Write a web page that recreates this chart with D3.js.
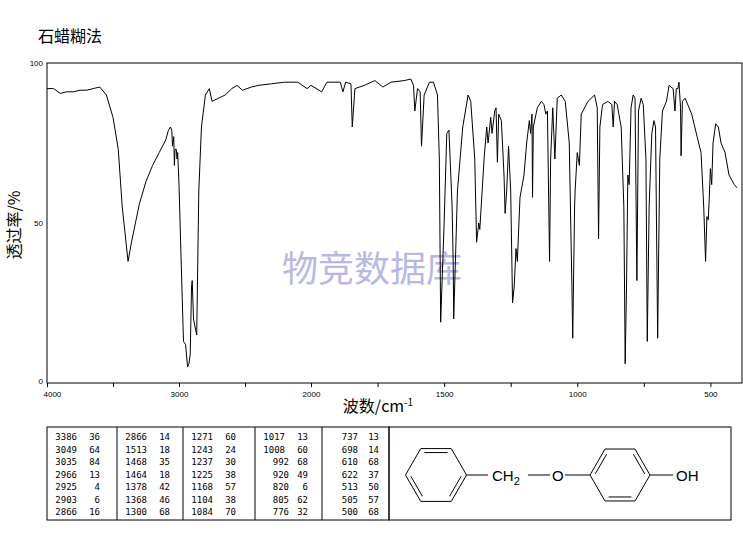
<!DOCTYPE html>
<html><head><meta charset="utf-8">
<script src="https://cdn.jsdelivr.net/npm/d3@7"></script>
<style>body{margin:0;background:#fff}svg{display:block}</style>
</head><body>
<script>
// spectrum points: [wavenumber, %T]
var spectrum = [[4000,92],[3950,92],[3900,90.5],[3850,91],[3800,91],[3750,91.5],[3700,91.5],[3650,92],[3600,92.5],[3550,90],[3500,83],[3460,73],[3430,55],[3386,38],[3360,44],[3300,56],[3250,63],[3200,68],[3150,72],[3100,76],[3080,79],[3065,80],[3055,79],[3049,74],[3040,77],[3035,68],[3030,73],[3020,73],[3015,70],[3010,72],[3000,62],[2985,40],[2966,13],[2950,12],[2935,5],[2925,6],[2915,9],[2905,30],[2900,32],[2890,20],[2866,15],[2850,60],[2830,80],[2800,90],[2770,92],[2750,88],[2700,89],[2650,90],[2600,92],[2560,93],[2520,91.5],[2450,92.5],[2400,93],[2300,93.5],[2200,94],[2100,94],[2030,92],[2000,93],[1960,91],[1940,94],[1890,94],[1880,91],[1870,94],[1850,93.5],[1845,80],[1835,92],[1800,93],[1760,94.5],[1730,92.5],[1700,94],[1650,94.5],[1625,95],[1615,93],[1610,85],[1600,92],[1590,91],[1585,74],[1575,90],[1555,94],[1540,94],[1525,90],[1518,70],[1513,19],[1500,50],[1490,78],[1482,79],[1470,55],[1466,38],[1464,20],[1450,60],[1430,80],[1410,90],[1400,88],[1385,70],[1378,44],[1370,50],[1366,48],[1350,70],[1340,80],[1335,75],[1325,83],[1320,78],[1310,85],[1305,86],[1300,69],[1295,84],[1285,82],[1275,65],[1271,53],[1265,60],[1258,74],[1250,60],[1243,25],[1237,30],[1230,42],[1225,38],[1215,58],[1200,65],[1190,75],[1180,82],[1175,78],[1170,84],[1168,58],[1165,80],[1150,86],[1135,88],[1125,87],[1118,84],[1112,85],[1104,38],[1100,70],[1092,86],[1088,78],[1084,70],[1075,89],[1060,90],[1045,88],[1030,75],[1020,30],[1017,14],[1010,55],[1008,60],[1000,72],[992,68],[985,84],[960,88],[935,90],[925,86],[920,45],[915,80],[905,87],[885,88],[870,87],[865,80],[860,88],[850,87],[835,80],[825,55],[820,6],[815,30],[810,65],[805,62],[798,86],[790,90],[783,89],[776,32],[770,85],[760,89],[752,87],[742,70],[737,13],[730,55],[720,78],[712,82],[706,80],[698,14],[690,70],[680,85],[665,88],[655,93],[640,92],[633,85],[628,92],[622,92],[618,94],[612,86],[610,71],[605,88],[595,89],[570,84],[550,77],[535,72],[525,55],[518,38],[513,52],[508,51],[505,56],[500,67],[495,62],[490,75],[480,81],[470,80],[460,75],[445,72],[430,65],[410,62],[400,61]];
var xTicks = [4000,3000,2000,1500,1000,500];
var yTicks = [0,50,100];
var peakWave = [3386,3049,3035,2966,2925,2903,2866,2866,1513,1468,1464,1378,1368,1300,1271,1243,1237,1225,1168,1104,1084,1017,1008,992,920,820,805,776,737,698,610,622,513,505,500];
var peakT = [36,64,84,13,4,6,16,14,18,35,18,42,46,68,60,24,30,38,57,38,70,13,60,68,49,6,62,32,13,14,68,37,50,57,68];

var svg = d3.select("body").append("svg").attr("width",743).attr("height",539)
  .style("font-family","'DejaVu Sans Mono',monospace");
var x = d3.scaleLinear().domain([4000,2000,400]).range([47,311,737]);
var y = d3.scaleLinear().domain([0,100]).range([383,63]);

svg.append("text").attr("x",38).attr("y",42).attr("font-size",16)
  .style("font-family","'Noto Sans CJK SC'").text("石蜡糊法");

svg.append("text").attr("x",372).attr("y",282).attr("text-anchor","middle")
  .attr("font-size",36).attr("fill","#b8b8e6").style("font-family","'Noto Sans CJK SC'").text("物竞数据库");

svg.append("rect").attr("x",47).attr("y",63).attr("width",695).attr("height",320)
  .attr("fill","none").attr("stroke","#000");
var ax = svg.append("g").attr("transform","translate(0,383)")
  .call(d3.axisBottom(x).tickValues(xTicks).tickSize(4).tickFormat(d3.format("d")));
ax.select(".domain").remove();
ax.selectAll("text").attr("font-size",8).attr("dy","0.9em");
ax.selectAll(".tick text").filter(function(d){return d===4000;}).attr("text-anchor","start").attr("dx",-4);
svg.append("g").attr("transform","translate(0,383)")
  .call(d3.axisBottom(x).tickValues([3500,2500,1750,1250,750]).tickSize(4).tickFormat(""))
  .select(".domain").remove();
var ay = svg.append("g").attr("transform","translate(47,0)")
  .call(d3.axisLeft(y).tickValues(yTicks).tickSize(0).tickPadding(4));
ay.select(".domain").remove();
ay.selectAll("text").attr("font-size",8).attr("dy", function(d){return d===100?"0.3em":d===0?"0.1em":"0.3em";});

svg.append("text").attr("x",378).attr("y",412).attr("text-anchor","middle").attr("font-size",16)
  .style("font-family","'Noto Sans CJK SC'").html("波数/cm<tspan dy='-6' font-size='10'>-1</tspan>");
svg.append("text").attr("transform","translate(20,225) rotate(-90)").attr("text-anchor","middle")
  .attr("font-size",16).style("font-family","'Noto Sans CJK SC'").text("透过率/%");

svg.append("path").datum(spectrum).attr("fill","none").attr("stroke","#000").attr("stroke-width",1)
  .attr("d", d3.line().x(function(d){return x(d[0]);}).y(function(d){return y(d[1]);}));

// peak table
svg.append("rect").attr("x",47).attr("y",427).attr("width",342).attr("height",93).attr("fill","none").attr("stroke","#000");
svg.append("rect").attr("x",389).attr("y",427).attr("width",342).attr("height",93).attr("fill","none").attr("stroke","#000");
[117,183,255,322].forEach(function(cx){
  svg.append("line").attr("x1",cx).attr("x2",cx).attr("y1",427).attr("y2",520).attr("stroke","#000");
});
var colX = [47,117,183,255,322];
peakWave.forEach(function(w,i){
  var c = Math.floor(i/7), r = i%7;
  var yy = 440 + r*12.5;
  svg.append("text").attr("x",colX[c]+(c===4?36:(c===3&&w<1000?34:30))).attr("y",yy).attr("text-anchor","end").attr("font-size",9).text(w);
  svg.append("text").attr("x",colX[c]+(c===4?57:53)).attr("y",yy).attr("text-anchor","end").attr("font-size",9).text(peakT[i]);
});

// structure
function ring(cx,cy,r,dbl){
  var pts = d3.range(6).map(function(k){var a=Math.PI/3*k;return [cx+r*Math.cos(a),cy+r*Math.sin(a)];});
  svg.append("polygon").attr("points",pts.map(function(p){return p.join(",");}).join(" ")).attr("fill","none").attr("stroke","#000");
  dbl.forEach(function(k){
    var p=pts[k],q=pts[(k+1)%6];
    var mx=(p[0]+q[0])/2,my=(p[1]+q[1])/2,dx=cx-mx,dy=cy-my,l=Math.hypot(dx,dy);
    var ox=dx/l*4,oy=dy/l*4,sx=(q[0]-p[0])*0.12,sy=(q[1]-p[1])*0.12;
    svg.append("line").attr("x1",p[0]+ox+sx).attr("y1",p[1]+oy+sy).attr("x2",q[0]+ox-sx).attr("y2",q[1]+oy-sy).attr("stroke","#000");
  });
}
ring(436,475,30.5,[0,2,4]);
ring(620,475,30,[5,1,3]);
var st = svg.append("g").attr("font-family","'Liberation Sans',Arial").attr("font-size",15);
svg.append("line").attr("x1",466.5).attr("x2",488).attr("y1",475).attr("y2",475).attr("stroke","#000");
st.append("text").attr("x",492).attr("y",481).html("CH<tspan dy='4' font-size='11'>2</tspan>");
svg.append("line").attr("x1",528).attr("x2",550).attr("y1",475).attr("y2",475).attr("stroke","#000");
st.append("text").attr("x",552).attr("y",481).text("O");
svg.append("line").attr("x1",565).attr("x2",590).attr("y1",475).attr("y2",475).attr("stroke","#000");
svg.append("line").attr("x1",650).attr("x2",673).attr("y1",475).attr("y2",475).attr("stroke","#000");
st.append("text").attr("x",676).attr("y",481).text("OH");
</script>
</body></html>
